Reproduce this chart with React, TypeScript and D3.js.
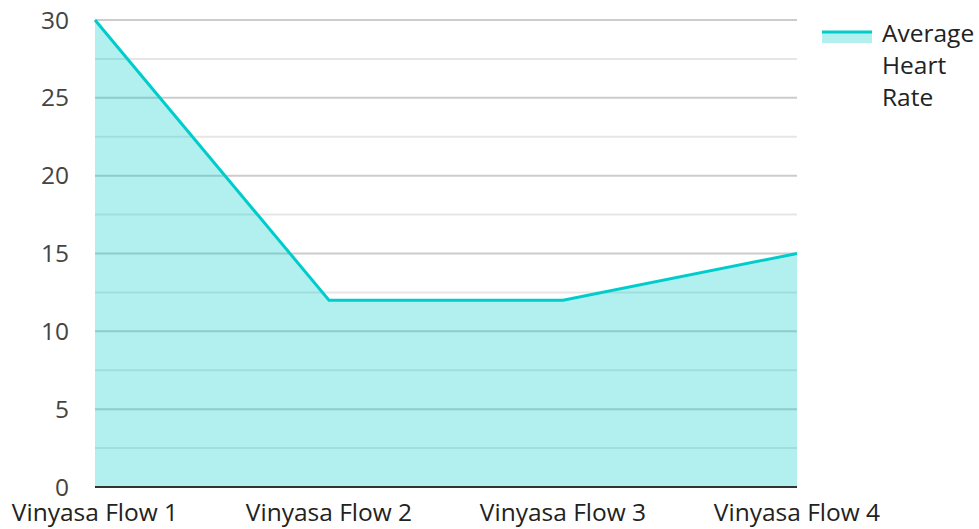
import { useEffect, useRef } from "react"
import * as d3 from "d3"

const CATEGORIES = ["Vinyasa Flow 1", "Vinyasa Flow 2", "Vinyasa Flow 3", "Vinyasa Flow 4"]
const HEART_RATE = [30, 12, 12, 15]
const Y_TICKS = [0, 5, 10, 15, 20, 25, 30]
const MINOR_TICKS = [2.5, 7.5, 12.5, 17.5, 22.5, 27.5]
const SERIES_NAME = ["Average", "Heart", "Rate"]

const W = 979
const H = 529
const LEFT = 95
const RIGHT = 797
const TOP = 20
const BOTTOM = 487
const LINE = "#00cccc"
const FONT = "'Open Sans', 'Noto Sans', sans-serif"
const FS = 24.5

export default function App() {
  const svgRef = useRef<SVGSVGElement>(null)

  useEffect(() => {
    if (!svgRef.current) return
    const svg = d3.select(svgRef.current)
    svg.selectAll("*").remove()

    const x = d3.scalePoint<string>().domain(CATEGORIES).range([LEFT, RIGHT])
    const y = d3.scaleLinear().domain([0, 30]).range([BOTTOM, TOP])

    // minor grid
    svg
      .append("g")
      .selectAll("line")
      .data(MINOR_TICKS)
      .join("line")
      .attr("x1", LEFT)
      .attr("x2", RIGHT)
      .attr("y1", (d) => y(d))
      .attr("y2", (d) => y(d))
      .attr("stroke", "#e6e6e6")
      .attr("stroke-width", 2)

    // major grid
    svg
      .append("g")
      .selectAll("line")
      .data(Y_TICKS.filter((d) => d > 0))
      .join("line")
      .attr("x1", LEFT)
      .attr("x2", RIGHT)
      .attr("y1", (d) => y(d))
      .attr("y2", (d) => y(d))
      .attr("stroke", "#cccccc")
      .attr("stroke-width", 2)

    const area = d3
      .area<number>()
      .x((_, i) => x(CATEGORIES[i])!)
      .y0(y(0))
      .y1((d) => y(d))
    svg
      .append("path")
      .attr("d", area(HEART_RATE)!)
      .attr("fill", LINE)
      .attr("fill-opacity", 0.3)

    const line = d3
      .line<number>()
      .x((_, i) => x(CATEGORIES[i])!)
      .y((d) => y(d))
    svg
      .append("path")
      .attr("d", line(HEART_RATE)!)
      .attr("fill", "none")
      .attr("stroke", LINE)
      .attr("stroke-width", 3)

    // x axis line
    svg
      .append("line")
      .attr("x1", LEFT)
      .attr("x2", RIGHT)
      .attr("y1", y(0))
      .attr("y2", y(0))
      .attr("stroke", "#333333")
      .attr("stroke-width", 2)

    // y tick labels
    svg
      .append("g")
      .selectAll("text")
      .data(Y_TICKS)
      .join("text")
      .attr("x", 69)
      .attr("y", (d) => y(d))
      .attr("dy", "0.35em")
      .attr("text-anchor", "end")
      .attr("fill", "#444444")
      .attr("font-size", FS)
      .attr("font-family", FONT)
      .text((d) => d)

    // x tick labels
    svg
      .append("g")
      .selectAll("text")
      .data(CATEGORIES)
      .join("text")
      .attr("x", (d) => x(d)!)
      .attr("y", 521)
      .attr("text-anchor", "middle")
      .attr("fill", "#222222")
      .attr("font-size", FS)
      .attr("font-family", FONT)
      .text((d) => d)

    // legend
    const lg = svg.append("g")
    lg.append("rect")
      .attr("x", 822)
      .attr("y", 32)
      .attr("width", 50)
      .attr("height", 11)
      .attr("fill", LINE)
      .attr("fill-opacity", 0.3)
    lg.append("line")
      .attr("x1", 822)
      .attr("x2", 872)
      .attr("y1", 32)
      .attr("y2", 32)
      .attr("stroke", LINE)
      .attr("stroke-width", 3)
    lg.selectAll("text")
      .data(SERIES_NAME)
      .join("text")
      .attr("x", 882)
      .attr("y", (_, i) => 42 + i * 32)
      .attr("fill", "#222222")
      .attr("font-size", FS)
      .attr("font-family", FONT)
      .text((d) => d)
  }, [])

  return (
    <svg
      ref={svgRef}
      width={W}
      height={H}
      style={{ position: "absolute", left: 0, top: 0, background: "#fff" }}
    />
  )
}
